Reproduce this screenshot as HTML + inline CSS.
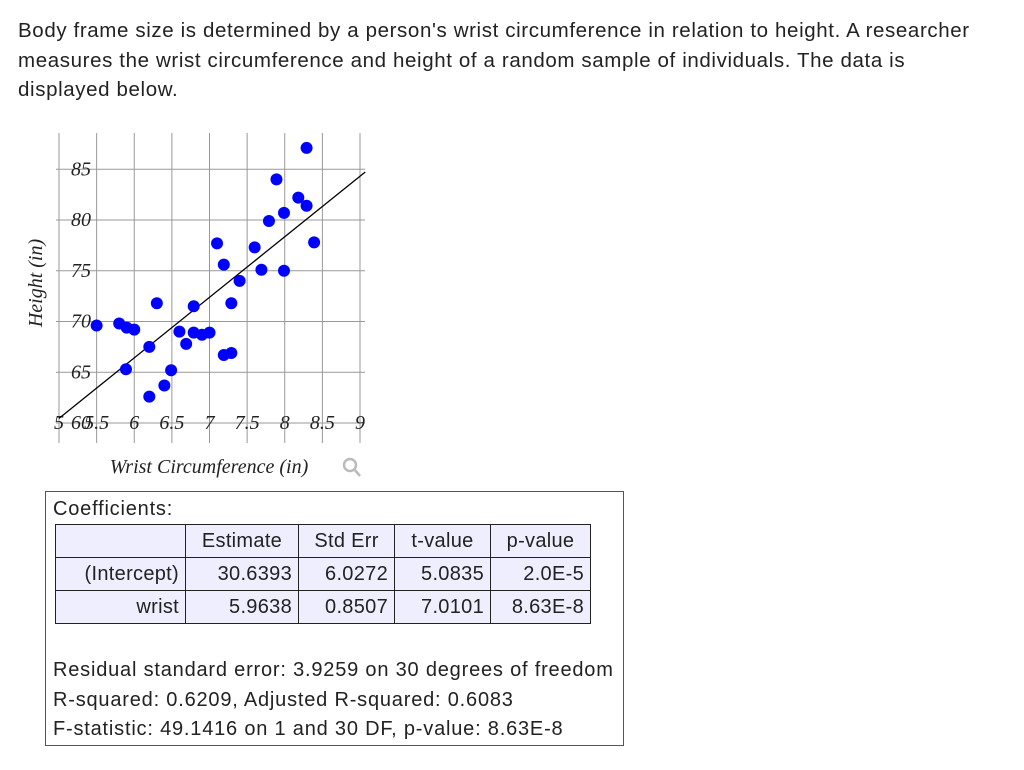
<!DOCTYPE html>
<html><head><meta charset="utf-8"><style>
body{margin:0;width:1024px;height:770px;background:#fff;position:relative;overflow:hidden;font-family:"Liberation Sans",sans-serif;color:#222}
.q{position:absolute;left:18px;top:16px;font-size:20.5px;letter-spacing:0.62px;line-height:29.5px;white-space:nowrap}
svg{position:absolute;left:0;top:0}
.box{position:absolute;left:45px;top:491px;width:579px;height:255px;border:1px solid #555;box-sizing:border-box}
.lbl{position:absolute;font-size:20px;letter-spacing:0.8px;white-space:nowrap}
table{position:absolute;left:55px;top:524px;border-collapse:collapse;background:#eeeefe;font-size:20px;letter-spacing:0.3px}
td{border:1.5px solid #222;height:32px;padding:0 6px;text-align:right}
</style></head><body>
<div class="q">Body frame size is determined by a person's wrist circumference in relation to height. A researcher<br>measures the wrist circumference and height of a random sample of individuals. The data is<br>displayed below.</div>
<svg width="1024" height="770">
<g id="grid"></g><g id="ticks"></g><g id="line"></g><g id="pts"></g>
<text x="42" y="283" transform="rotate(-90 42 283)" text-anchor="middle" font-family="Liberation Serif,serif" font-style="italic" font-size="20" fill="#222">Height (in)</text>
<text x="209" y="473" text-anchor="middle" font-family="Liberation Serif,serif" font-style="italic" font-size="20" fill="#222">Wrist Circumference (in)</text>
<g stroke="#bbb" stroke-width="2.5" fill="none"><circle cx="350" cy="465" r="6"/><line x1="354" y1="469" x2="360" y2="476"/></g>
</svg>
<div class="box"></div>
<div class="lbl" style="left:53px;top:498px">Coefficients:</div>
<table>
<tr><td style="width:117px;text-align:center"></td><td style="width:100px;text-align:center">Estimate</td><td style="width:83px;text-align:center">Std Err</td><td style="width:83px;text-align:center">t-value</td><td style="width:87px;text-align:center">p-value</td></tr>
<tr><td>(Intercept)</td><td>30.6393</td><td>6.0272</td><td>5.0835</td><td>2.0E-5</td></tr>
<tr><td>wrist</td><td>5.9638</td><td>0.8507</td><td>7.0101</td><td>8.63E-8</td></tr>
</table>
<div class="lbl" style="left:53px;top:656px;line-height:29.5px">Residual standard error: 3.9259 on 30 degrees of freedom<br>R-squared: 0.6209, Adjusted R-squared: 0.6083<br>F-statistic: 49.1416 on 1 and 30 DF, p-value: 8.63E-8</div>
<script>
const wrist=[5.5,5.8,5.9,6.0,5.89,6.2,6.3,6.2,6.4,6.49,6.6,6.69,6.79,6.79,6.9,7.0,7.1,7.19,7.29,7.19,7.29,7.4,7.6,7.69,7.79,7.89,7.99,7.99,8.18,8.29,8.29,8.39];
const height=[69.6,69.8,69.4,69.2,65.3,67.5,71.8,62.6,63.7,65.2,69.0,67.8,71.5,68.9,68.7,68.9,77.7,75.6,71.8,66.7,66.9,74.0,77.3,75.1,79.9,84.0,80.7,75.0,82.2,81.4,87.1,77.8];
const xTicks=[5,5.5,6,6.5,7,7.5,8,8.5,9];
const yTicks=[60,65,70,75,80,85];
const coef=[30.6393,5.9638];
const NS='http://www.w3.org/2000/svg';
const sx=v=>59+(v-5)*75.25, sy=v=>423-(v-60)*10.15;
function mk(t,a,p){const e=document.createElementNS(NS,t);for(const k in a)e.setAttribute(k,a[k]);p.appendChild(e);return e;}
const G=document.getElementById('grid'),T=document.getElementById('ticks');
xTicks.forEach(v=>{const l=mk('line',{x1:sx(v),x2:sx(v),y1:133,y2:443,stroke:'#999','stroke-width':1},G);


const t=mk('text',{x:sx(v),y:429,'text-anchor':'middle','font-family':'Liberation Serif,serif','font-style':'italic','font-size':20,fill:'#222'},T);t.textContent=v;

});
yTicks.forEach(v=>{const l=mk('line',{x1:56,x2:365,y1:sy(v),y2:sy(v),stroke:'#999','stroke-width':1},G);


const t=mk('text',{x:81,y:sy(v)+6,'text-anchor':'middle','font-family':'Liberation Serif,serif','font-style':'italic','font-size':20,fill:'#222'},T);t.textContent=v;

});
const x0=5,x1=9.07;
const rl=mk('line',{x1:sx(x0),y1:sy(coef[0]+coef[1]*x0),x2:sx(x1),y2:sy(coef[0]+coef[1]*x1),stroke:'#000','stroke-width':1.3},document.getElementById('line'));


const P=document.getElementById('pts');
wrist.forEach((w,i)=>{const c=mk('circle',{cx:sx(w),cy:sy(height[i]),r:6,fill:'#0000ff'},P);

});
</script>
</body></html>
